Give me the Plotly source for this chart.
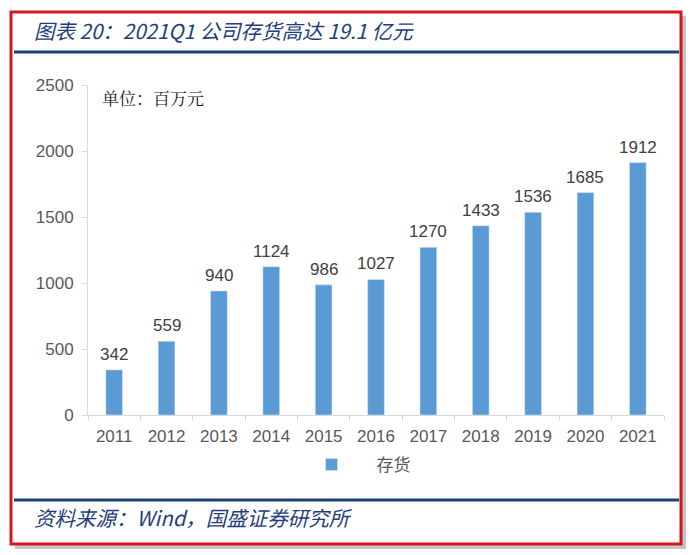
import plotly.graph_objects as go

years = ["2011", "2012", "2013", "2014", "2015", "2016", "2017", "2018", "2019", "2020", "2021"]
inventory = [342, 559, 940, 1124, 986, 1027, 1270, 1433, 1536, 1685, 1912]
series_name = "存货"
title_text = "图表 20：2021Q1 公司存货高达 19.1 亿元"
source_text = "资料来源：Wind，国盛证券研究所"
unit_text = "单位：百万元"
y_ticks = [0, 500, 1000, 1500, 2000, 2500]

W, H = 690, 555
L, R, T, B = 88, 26, 85, 140
PW, PH = W - L - R, H - T - B

def px(x):
    return (x - L) / PW

def py(y):
    return (H - B - y) / PH

CJK = "Noto Sans CJK SC, Liberation Sans, sans-serif"
SERIF_CJK = "Noto Serif CJK SC, Noto Sans CJK SC, serif"
LAT = "Liberation Sans, Arial, sans-serif"
BLUE = "#1F3E7C"

fig = go.Figure()
fig.add_trace(go.Bar(
    x=years, y=inventory, name=series_name,
    marker_color="#5B9BD5",
    width=0.32,
))

shapes = []
shapes.append(dict(type="rect", xref="paper", yref="paper",
                   x0=px(15), x1=px(686), y0=py(549), y1=py(16),
                   line=dict(width=0), fillcolor="#C4C4C4", layer="below"))
shapes.append(dict(type="rect", xref="paper", yref="paper",
                   x0=px(11), x1=px(681), y0=py(544), y1=py(12),
                   line=dict(color="#D7161C", width=3), fillcolor="white", layer="below"))
shapes.append(dict(type="line", xref="paper", yref="paper",
                   x0=px(14), x1=px(679), y0=py(52), y1=py(52),
                   line=dict(color=BLUE, width=3)))
shapes.append(dict(type="line", xref="paper", yref="paper",
                   x0=px(14), x1=px(679), y0=py(500), y1=py(500),
                   line=dict(color=BLUE, width=3)))

annotations = [
    dict(text=title_text, xref="paper", yref="paper", x=px(32), y=py(30),
         xanchor="left", yanchor="middle", showarrow=False,
         font=dict(family=CJK, size=20.5, color=BLUE, style="italic")),
    dict(text=source_text, xref="paper", yref="paper", x=px(32), y=py(517),
         xanchor="left", yanchor="middle", showarrow=False,
         font=dict(family=CJK, size=20.5, color=BLUE, style="italic")),
    dict(text=unit_text, xref="paper", yref="paper", x=px(100), y=py(97),
         xanchor="left", yanchor="middle", showarrow=False,
         font=dict(family=SERIF_CJK, size=17, color="#1A1A1A")),
]
for i, v in enumerate(inventory):
    annotations.append(dict(text=str(v), x=i, y=v, xref="x", yref="y",
                            xanchor="center", yanchor="bottom", yshift=4, showarrow=False,
                            font=dict(family=LAT, size=17, color="#404040")))

fig.update_layout(
    width=W, height=H,
    margin=dict(l=L, r=R, t=T, b=B),
    paper_bgcolor="white", plot_bgcolor="rgba(0,0,0,0)",
    shapes=shapes, annotations=annotations,
    showlegend=True,
    legend=dict(orientation="h", x=px(351), xanchor="center", y=py(465), yanchor="middle",
                font=dict(family=CJK, size=17, color="#595959"), itemwidth=80,
                bgcolor="rgba(0,0,0,0)"),
    xaxis=dict(type="category", categoryarray=years, categoryorder="array",
               range=[-0.5, len(years) - 0.5],
               showline=True, linecolor="#D9D9D9", linewidth=1,
               ticks="outside", tickson="boundaries", ticklen=5, tickcolor="#D9D9D9",
               ticklabelstandoff=6, tickangle=0,
               tickfont=dict(family=LAT, size=17, color="#595959"), showgrid=False),
    yaxis=dict(range=[0, 2500], tickvals=y_ticks, showline=True, linecolor="#D9D9D9",
               ticks="outside", ticklen=5, tickcolor="#D9D9D9", showgrid=False,
               zeroline=False, ticklabelstandoff=5,
               tickfont=dict(family=LAT, size=17, color="#595959")),
)

fig.write_html("out.html")
